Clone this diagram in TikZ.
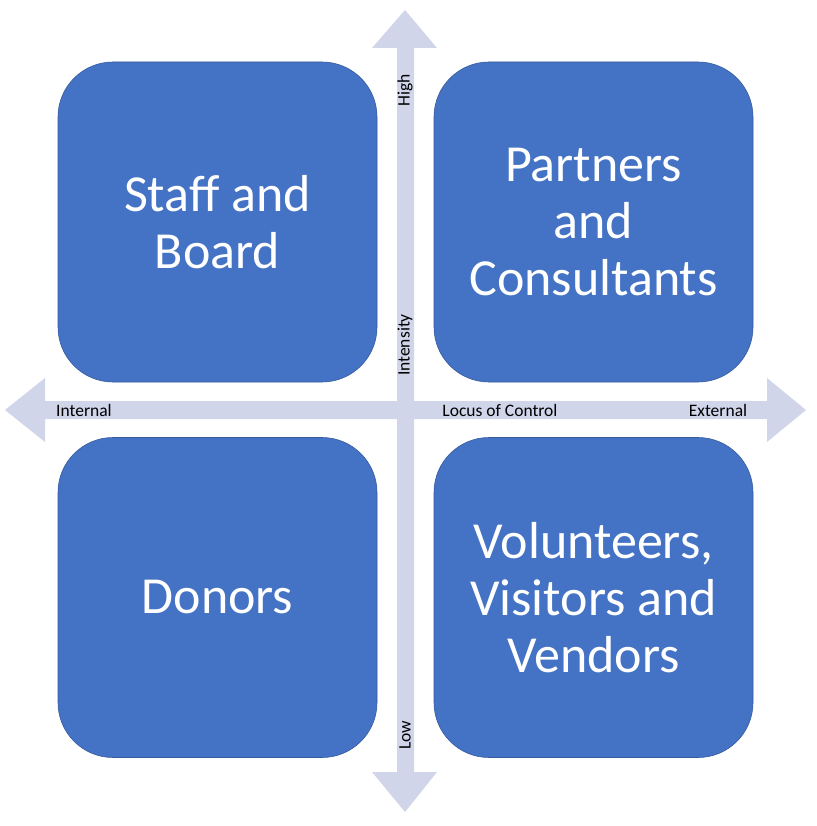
\documentclass[tikz,border=0pt]{standalone}
\usepackage{fontspec}
\setmainfont{Carlito}
\definecolor{boxblue}{HTML}{4472C4}
\definecolor{arrowc}{HTML}{D0D5EA}
\begin{document}
\begin{tikzpicture}[x=1pt,y=-1pt,
  quad/.style={fill=boxblue,draw=boxblue!80!black,line width=0.6pt,rounded corners=55pt,minimum width=319pt,minimum height=320pt,text=white,align=center,font=\fontsize{52}{57}\selectfont},
  axlabel/.style={font=\fontsize{17.5}{20}\selectfont,text=black,inner sep=1pt}]
\useasboundingbox (0,0) rectangle (816,826);
% vertical arrow
\fill[arrowc] (397,48) -- (372,48) -- (405,10) -- (437,48) -- (414,48) -- (414,772) -- (437,772) -- (405,812) -- (372,772) -- (397,772) -- cycle;
% horizontal arrow
\fill[arrowc] (45,401) -- (45,378) -- (5,410) -- (45,442) -- (45,419) -- (767,419) -- (767,442) -- (806,410) -- (767,378) -- (767,401) -- cycle;
\node[quad] (sb) at (217.5,222) {Staff and\\Board};
\node[quad] (pc) at (593.5,222) {Partners\\and\\Consultants};
\node[quad] (dn) at (217.5,597.5) {Donors};
\node[quad] (vv) at (593.5,597.5) {Volunteers,\\Visitors and\\Vendors};
\node[axlabel,rotate=90] (hi) at (405,90) {High};
\node[axlabel,rotate=90] (in) at (405,345) {Intensity};
\node[axlabel,rotate=90] (lo) at (405,735) {Low};
\node[axlabel] (il) at (84,410) {Internal};
\node[axlabel] (lc) at (500,410) {Locus of Control};
\node[axlabel] (ex) at (718,410) {External};
\end{tikzpicture}
\end{document}
